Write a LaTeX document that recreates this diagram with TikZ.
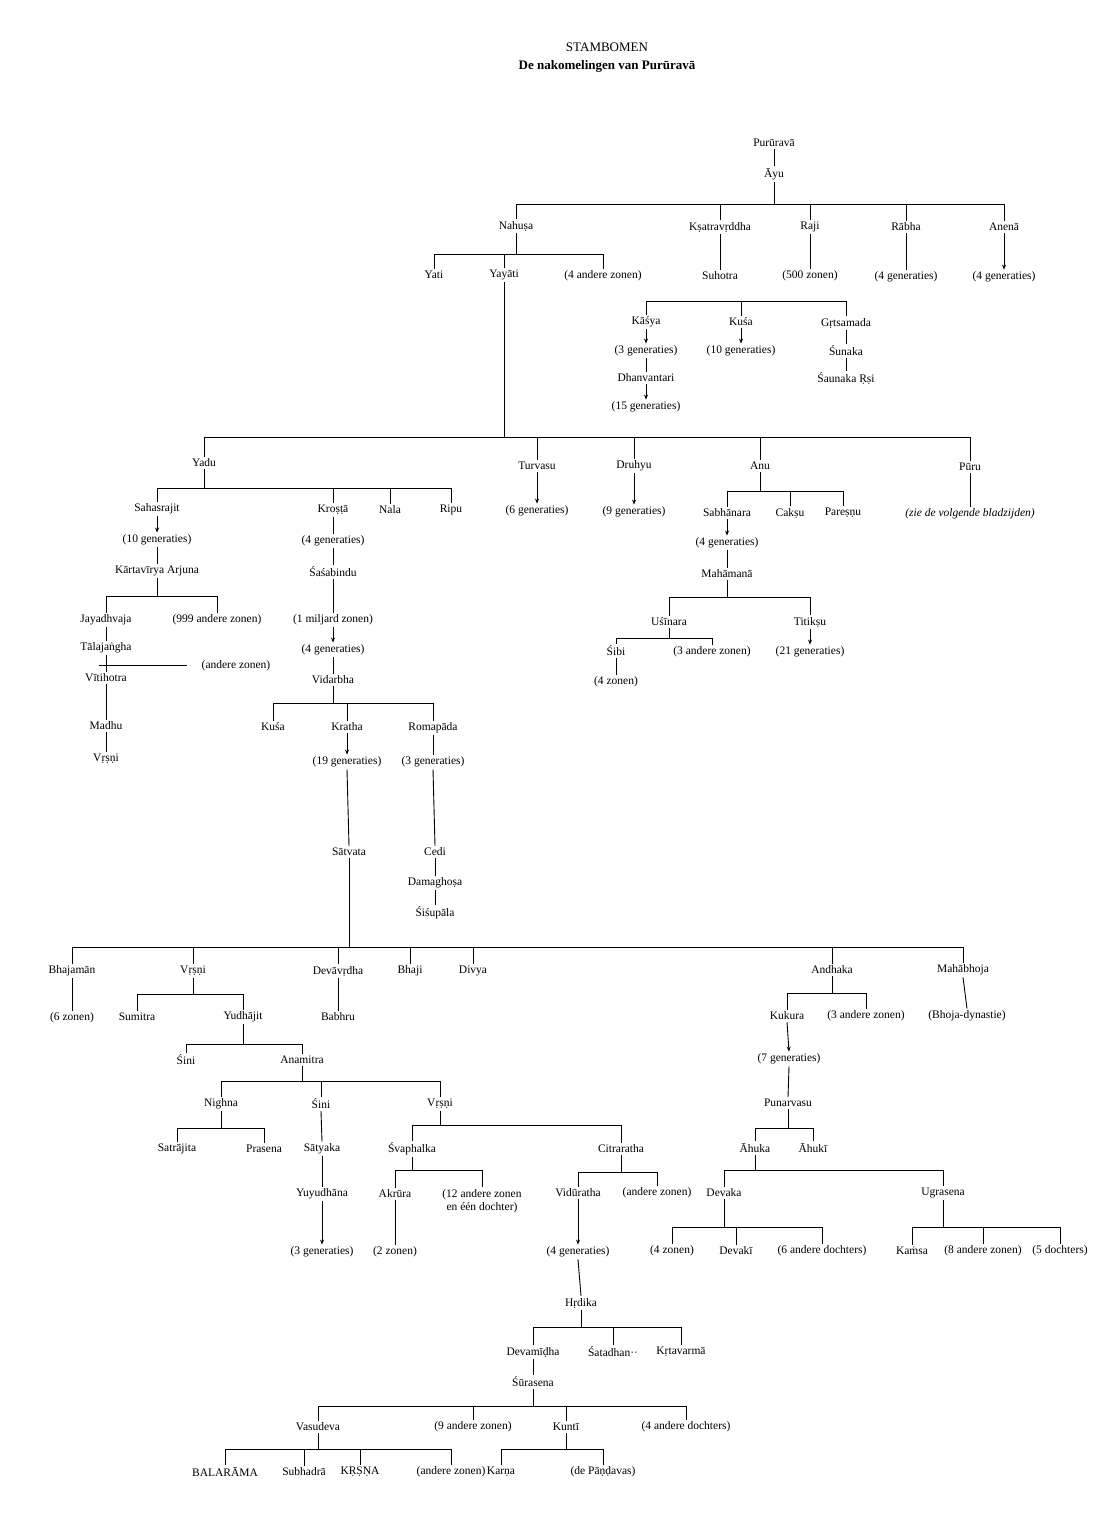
\documentclass[tikz,border=0pt]{standalone}
\usepackage{fontspec}
\setmainfont{Liberation Serif}
\usetikzlibrary{arrows.meta}
\tikzset{n/.style={inner sep=2pt,font=\fontsize{11.5}{13}\selectfont},
 con/.style={line width=0.9pt},
 arr/.style={con,-{Stealth[length=5pt,width=4pt]}}}
\newcommand\famtree[3]{\coordinate (bb) at (0,#2);\draw[con] (#1.south) -- (#1.south |- bb);\foreach \c in {#3}{\draw[con] (#1.south |- bb) -| (\c.north);}}
\newcommand\lk[2]{\draw[con] (#1.south) -- (#2.north);}
\newcommand\ak[2]{\draw[arr] (#1.south) -- (#2.north);}
\begin{document}
\begin{tikzpicture}[x=1pt,y=-1pt]
\useasboundingbox[fill=white] (0,0) rectangle (1104,1531);
\node[n,font=\fontsize{13}{15}\selectfont] at (607,47) {STAMBOMEN};
\node[n,font=\fontsize{13}{15}\selectfont\bfseries] at (607,66) {De nakomelingen van Purūravā};
\begin{scope}[every node/.style={n}]
\node (pur) at (774,143) {Purūravā};
\node (ayu) at (774,174) {Āyu};
\node (nah) at (516,226) {Nahuṣa};
\node (ksa) at (720,227) {Kṣatravṛddha};
\node (raj) at (810,227) {Raji};
\node (rab) at (906,227) {Rābha};
\node (ane) at (1004,227) {Anenā};
\node (yati) at (434,275) {Yati};
\node (yay) at (504,275) {Yayāti};
\node (anz) at (603,276) {(4 andere zonen)};
\node (suh) at (720,276) {Suhotra};
\node (z500) at (810,276) {(500 zonen)};
\node (rg4) at (906,277) {(4 generaties)};
\node (ag4) at (1004,277) {(4 generaties)};
\node (kas) at (646,322) {Kāśya};
\node (kg3) at (646,351) {(3 generaties)};
\node (dha) at (646,378) {Dhanvantari};
\node (dg15) at (646,407) {(15 generaties)};
\node (kus) at (741,322) {Kuśa};
\node (kug) at (741,351) {(10 generaties)};
\node (grt) at (846,323) {Gṛtsamada};
\node (sun) at (846,351) {Śunaka};
\node (sau) at (846,379) {Śaunaka Ṛṣi};
\node (yadu) at (204,463) {Yadu};
\node (tur) at (537,466) {Turvasu};
\node (dru) at (634,466) {Druhyu};
\node (anu) at (760,466) {Anu};
\node (puru) at (970,467) {Pūru};
\node (sah) at (157,509) {Sahasrajit};
\node (kro) at (333,510) {Kroṣṭā};
\node (nala) at (390,510) {Nala};
\node (ripu) at (451,510) {Ripu};
\node (sg10) at (157,540) {(10 generaties)};
\node (kar) at (157,571) {Kārtavīrya Arjuna};
\node (jay) at (106,620) {Jayadhvaja};
\node (z999) at (217,620) {(999 andere zonen)};
\node (tal) at (106,648) {Tālajaṅgha};
\node (vit) at (106,678) {Vītihotra};
\node (taz) at (236,666) {(andere zonen)};
\node (mad) at (106,726) {Madhu};
\node (vr1) at (106,759) {Vṛṣṇi};
\node (krg4) at (333,541) {(4 generaties)};
\node (sas) at (333,572) {Śaśabindu};
\node (mil) at (333,620) {(1 miljard zonen)};
\node (mg4) at (333,650) {(4 generaties)};
\node (vid) at (333,680) {Vidarbha};
\node (kus2) at (273,727) {Kuśa};
\node (krat) at (347,727) {Kratha};
\node (rom) at (433,728) {Romapāda};
\node (g19) at (347,762) {(19 generaties)};
\node (rg3) at (433,762) {(3 generaties)};
\node (sat) at (349,852) {Sātvata};
\node (cedi) at (435,852) {Cedi};
\node (dam) at (435,883) {Damaghoṣa};
\node (sis) at (435,913) {Śiśupāla};
\node (tg6) at (537,511) {(6 generaties)};
\node (dg9) at (634,512) {(9 generaties)};
\node (zie) at (970,514) {\itshape (zie de volgende bladzijden)};
\node (sab) at (727,513) {Sabhānara};
\node (cak) at (790,513) {Cakṣu};
\node (par) at (843,513) {Pareṣṇu};
\node (sbg4) at (727,543) {(4 generaties)};
\node (mah) at (727,574) {Mahāmanā};
\node (usi) at (669,622) {Uśīnara};
\node (tit) at (810,622) {Titikṣu};
\node (sibi) at (616,651) {Śibi};
\node (z3a) at (712,652) {(3 andere zonen)};
\node (g21) at (810,652) {(21 generaties)};
\node (z4a) at (616,682) {(4 zonen)};
\node (bha) at (72,971) {Bhajamān};
\node (vr2) at (193,971) {Vṛṣṇi};
\node (dev) at (338,971) {Devāvṛdha};
\node (bhaj) at (410,971) {Bhaji};
\node (div) at (473,971) {Divya};
\node (and) at (832,970) {Andhaka};
\node (mbh) at (963,970) {Mahābhoja};
\node (z6) at (72,1018) {(6 zonen)};
\node (bab) at (338,1017) {Babhru};
\node (bho) at (967,1016) {(Bhoja-dynastie)};
\node (sum) at (137,1017) {Sumitra};
\node (yud) at (243,1017) {Yudhājit};
\node (sini1) at (186,1060) {Śini};
\node (anam) at (302,1060) {Anamitra};
\node (nig) at (221,1104) {Nighna};
\node (sini2) at (321,1104) {Śini};
\node (vr3) at (440,1104) {Vṛṣṇi};
\node (satr) at (177,1149) {Satrājita};
\node (pras) at (264,1149) {Prasena};
\node (saty) at (322,1149) {Sātyaka};
\node (yuy) at (322,1194) {Yuyudhāna};
\node (yg3) at (322,1252) {(3 generaties)};
\node (sva) at (412,1149) {Śvaphalka};
\node (cit) at (621,1149) {Citraratha};
\node (akr) at (395,1194) {Akrūra};
\node (z12) at (482,1201) [align=center,font=\fontsize{11.5}{13}\selectfont] {(12 andere zonen\\ en één dochter)};
\node (z2) at (395,1252) {(2 zonen)};
\node (vidu) at (578,1193) {Vidūratha};
\node (caz) at (657,1193) {(andere zonen)};
\node (vg4) at (578,1252) {(4 generaties)};
\node (hrd) at (581,1303) {Hṛdika};
\node (devm) at (533,1352) {Devamīḍha};
\node (sata) at (613,1352) {Śatadhan··};
\node (krt) at (681,1352) {Kṛtavarmā};
\node (sur) at (533,1382) {Śūrasena};
\node (vas) at (318,1427) {Vasudeva};
\node (z9) at (473,1427) {(9 andere zonen)};
\node (kun) at (566,1427) {Kuntī};
\node (d4) at (686,1427) {(4 andere dochters)};
\node (bal) at (225,1472) {BALARĀMA};
\node (sub) at (304,1472) {Subhadrā};
\node (krs) at (360,1472) {KṚṢṆA};
\node (vaz) at (451,1472) {(andere zonen)};
\node (karn) at (501,1472) {Karṇa};
\node (pand) at (603,1472) {(de Pāṇḍavas)};
\node (kuk) at (787,1016) {Kukura};
\node (z3b) at (866,1016) {(3 andere zonen)};
\node (g7) at (789,1059) {(7 generaties)};
\node (pun) at (788,1103) {Punarvasu};
\node (ahu) at (755,1148) {Āhuka};
\node (ahi) at (813,1148) {Āhukī};
\node (devk) at (724,1193) {Devaka};
\node (ugr) at (943,1193) {Ugrasena};
\node (z4b) at (672,1251) {(4 zonen)};
\node (devi) at (736,1251) {Devakī};
\node (d6) at (822,1251) {(6 andere dochters)};
\node (kam) at (912,1251) {Kaṁsa};
\node (z8) at (983,1251) {(8 andere zonen)};
\node (d5) at (1060,1251) {(5 dochters)};
\end{scope}
% connectors
\lk{pur}{ayu}
\famtree{ayu}{204}{nah,ksa,raj,rab,ane}
\famtree{nah}{254}{yati,yay,anz}
\lk{ksa}{suh} \lk{raj}{z500} \lk{rab}{rg4} \ak{ane}{ag4}
\coordinate (sb) at (0,301);
\draw[con] (kas.north|-sb) -- (grt.north|-sb);
\foreach \c in {kas,kus,grt}{\draw[con] (\c.north|-sb) -- (\c.north);}
\ak{kas}{kg3} \lk{kg3}{dha} \ak{dha}{dg15} \ak{kus}{kug} \lk{grt}{sun} \lk{sun}{sau}
\famtree{yay}{437}{yadu,tur,dru,anu,puru}
\famtree{yadu}{488}{sah,kro,nala,ripu}
\ak{sah}{sg10} \lk{sg10}{kar}
\famtree{kar}{596}{jay,z999}
\lk{jay}{tal} \lk{tal}{vit} \lk{vit}{mad} \lk{mad}{vr1}
\coordinate (tz) at (0,665);
\draw[con] (tal.south|-tz) -- (187,665);
\draw[con] (99,665) -- (tal.south|-tz);
\lk{kro}{krg4} \lk{krg4}{sas} \lk{sas}{mil} \ak{mil}{mg4} \lk{mg4}{vid}
\famtree{vid}{703}{kus2,krat,rom}
\ak{krat}{g19} \lk{g19}{sat} \lk{rom}{rg3} \lk{rg3}{cedi} \lk{cedi}{dam} \lk{dam}{sis}
\ak{tur}{tg6} \ak{dru}{dg9} \lk{puru}{zie}
\famtree{anu}{491}{sab,cak,par}
\ak{sab}{sbg4} \lk{sbg4}{mah}
\famtree{mah}{597}{usi,tit}
\famtree{usi}{638}{sibi,z3a}
\ak{tit}{g21} \lk{sibi}{z4a}
\famtree{sat}{947}{bha,vr2,dev,bhaj,div,and,mbh}
\lk{bha}{z6} \lk{dev}{bab} \lk{mbh}{bho}
\famtree{vr2}{994}{sum,yud}
\famtree{yud}{1044}{sini1,anam}
\famtree{anam}{1081}{nig,sini2,vr3}
\famtree{nig}{1128}{satr,pras}
\lk{sini2}{saty} \lk{saty}{yuy} \ak{yuy}{yg3}
\famtree{vr3}{1125}{sva,cit}
\famtree{sva}{1170}{akr,z12}
\lk{akr}{z2}
\famtree{cit}{1172}{vidu,caz}
\ak{vidu}{vg4} \lk{vg4}{hrd}
\famtree{hrd}{1327}{devm,sata,krt}
\lk{devm}{sur}
\famtree{sur}{1406}{vas,z9,kun,d4}
\famtree{vas}{1449}{bal,sub,krs,vaz}
\famtree{kun}{1449}{karn,pand}
\famtree{and}{993}{kuk,z3b}
\ak{kuk}{g7} \lk{g7}{pun}
\famtree{pun}{1128}{ahu,ahi}
\famtree{ahu}{1170}{devk,ugr}
\famtree{devk}{1227}{z4b,devi,d6}
\famtree{ugr}{1227}{kam,z8,d5}
\end{tikzpicture}
\end{document}
